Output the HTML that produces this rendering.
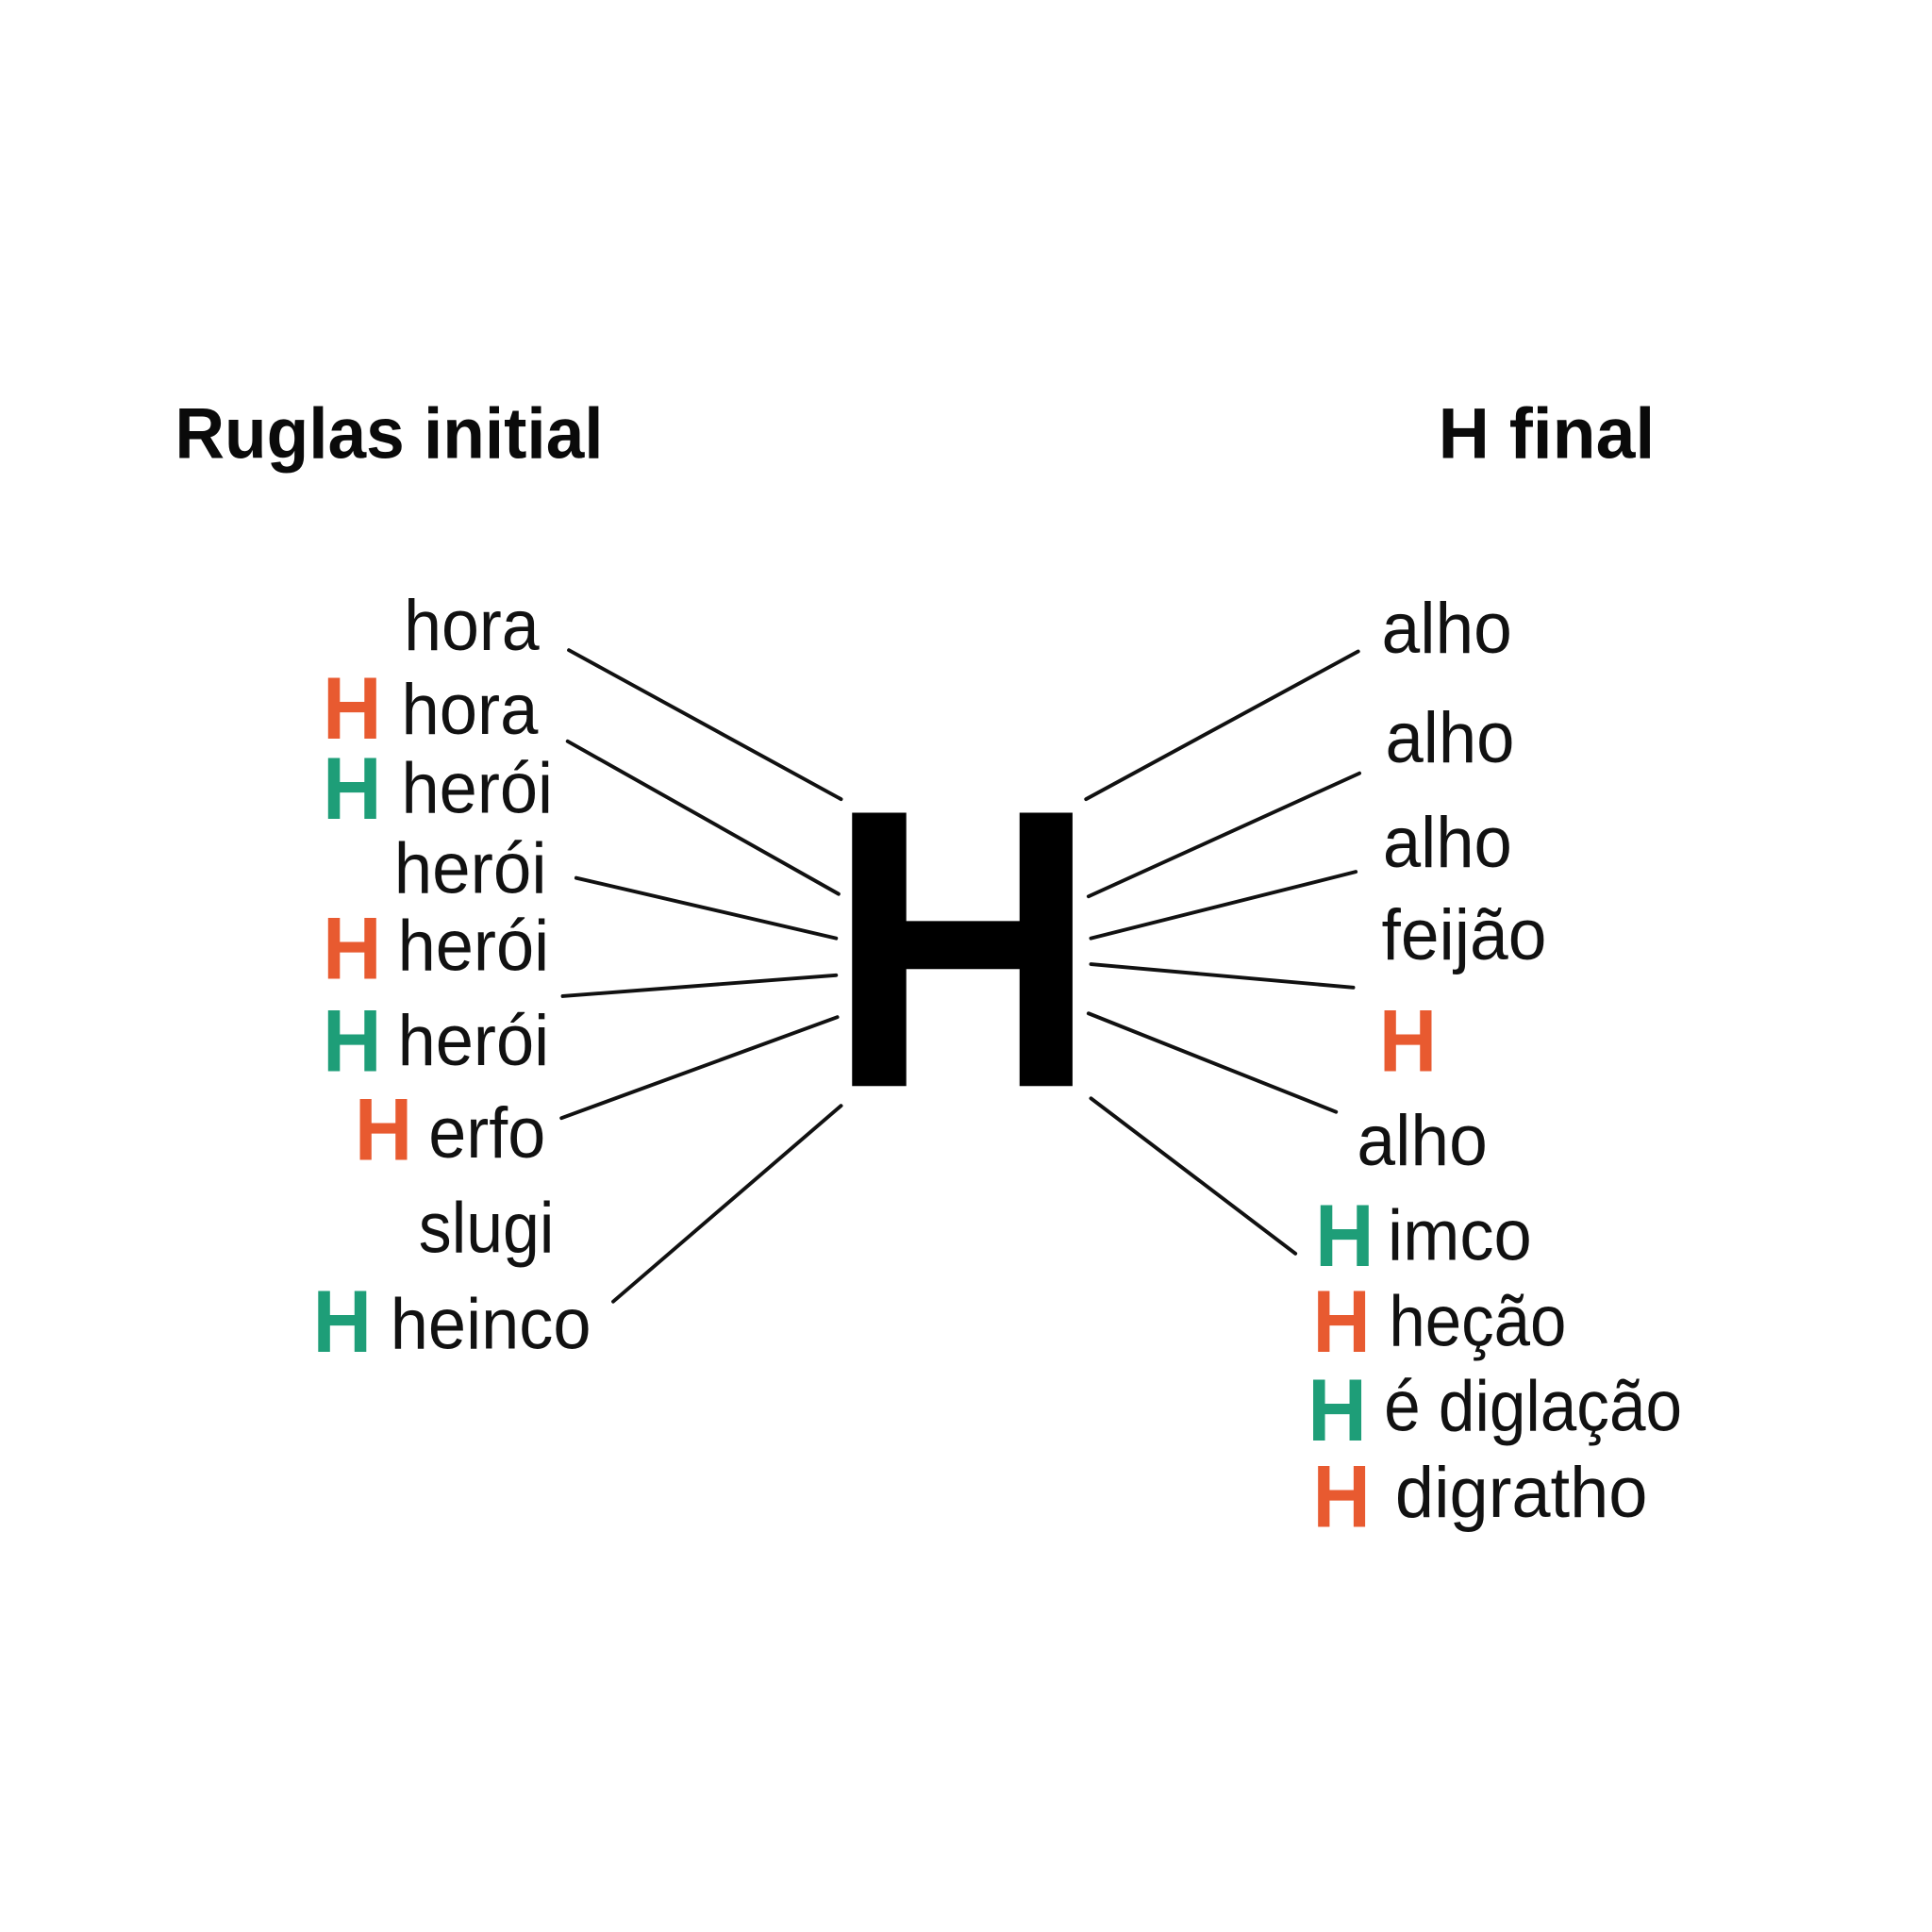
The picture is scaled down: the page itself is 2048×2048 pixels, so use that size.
<!DOCTYPE html>
<html><head><meta charset="utf-8"><style>
html,body{margin:0;padding:0;background:#fff}
svg{display:block}
text{font-family:"Liberation Sans",sans-serif}
.w{font-size:58px;fill:#111}
.o{font-size:72px;font-weight:bold;fill:#E85A30}
.g{font-size:72px;font-weight:bold;fill:#1E9E78}
.t{font-size:58px;font-weight:bold;fill:#0a0a0a}
</style></head><body>
<svg width="2048" height="2048" viewBox="0 0 1569 1569" xmlns="http://www.w3.org/2000/svg">
<rect width="1569" height="1569" fill="#fff"/>
<text class="t" x="142" y="372" textLength="348" lengthAdjust="spacingAndGlyphs">Ruglas initial</text>
<text class="t" x="1168" y="372" textLength="176" lengthAdjust="spacingAndGlyphs">H final</text>

<rect x="692" y="660" width="44" height="222" fill="#000"/>
<rect x="828" y="660" width="43" height="222" fill="#000"/>
<rect x="734" y="748" width="96" height="39" fill="#000"/>

<g stroke="#111" stroke-width="3" stroke-linecap="round">
<line x1="462" y1="528" x2="683" y2="649"/>
<line x1="461" y1="602" x2="681" y2="726"/>
<line x1="468" y1="713" x2="679" y2="762"/>
<line x1="457" y1="809" x2="679" y2="792"/>
<line x1="456" y1="908" x2="680" y2="826"/>
<line x1="498" y1="1057" x2="683" y2="898"/>
<line x1="882" y1="649" x2="1103" y2="529"/>
<line x1="884" y1="728" x2="1104" y2="628"/>
<line x1="886" y1="762" x2="1101" y2="708"/>
<line x1="886" y1="783" x2="1099" y2="802"/>
<line x1="884" y1="823" x2="1085" y2="903"/>
<line x1="886" y1="892" x2="1052" y2="1018"/>
</g>

<text class="w" x="328" y="528" textLength="110" lengthAdjust="spacingAndGlyphs">hora</text>
<text class="o" x="262" y="600" textLength="48" lengthAdjust="spacingAndGlyphs">H</text>
<text class="w" x="326" y="596" textLength="111" lengthAdjust="spacingAndGlyphs">hora</text>
<text class="g" x="262" y="665" textLength="48" lengthAdjust="spacingAndGlyphs">H</text>
<text class="w" x="326" y="660" textLength="123" lengthAdjust="spacingAndGlyphs">herói</text>
<text class="w" x="320" y="725" textLength="124" lengthAdjust="spacingAndGlyphs">herói</text>
<text class="o" x="262" y="795" textLength="48" lengthAdjust="spacingAndGlyphs">H</text>
<text class="w" x="323" y="788" textLength="123" lengthAdjust="spacingAndGlyphs">herói</text>
<text class="g" x="262" y="870" textLength="48" lengthAdjust="spacingAndGlyphs">H</text>
<text class="w" x="323" y="865" textLength="123" lengthAdjust="spacingAndGlyphs">herói</text>
<text class="o" x="288" y="942" textLength="47" lengthAdjust="spacingAndGlyphs">H</text>
<text class="w" x="348" y="940" textLength="95" lengthAdjust="spacingAndGlyphs">erfo</text>
<text class="w" x="340" y="1017" textLength="110" lengthAdjust="spacingAndGlyphs">slugi</text>
<text class="g" x="254" y="1098" textLength="48" lengthAdjust="spacingAndGlyphs">H</text>
<text class="w" x="317" y="1095" textLength="163" lengthAdjust="spacingAndGlyphs">heinco</text>

<text class="w" x="1122" y="530" textLength="106" lengthAdjust="spacingAndGlyphs">alho</text>
<text class="w" x="1125" y="619" textLength="105" lengthAdjust="spacingAndGlyphs">alho</text>
<text class="w" x="1123" y="704" textLength="105" lengthAdjust="spacingAndGlyphs">alho</text>
<text class="w" x="1122" y="779" textLength="134" lengthAdjust="spacingAndGlyphs">feijão</text>
<text class="o" x="1120" y="870" textLength="47" lengthAdjust="spacingAndGlyphs">H</text>
<text class="w" x="1102" y="946" textLength="106" lengthAdjust="spacingAndGlyphs">alho</text>
<text class="g" x="1068" y="1028" textLength="48" lengthAdjust="spacingAndGlyphs">H</text>
<text class="w" x="1127" y="1023" textLength="117" lengthAdjust="spacingAndGlyphs">imco</text>
<text class="o" x="1066" y="1098" textLength="47" lengthAdjust="spacingAndGlyphs">H</text>
<text class="w" x="1128" y="1093" textLength="144" lengthAdjust="spacingAndGlyphs">heção</text>
<text class="g" x="1062" y="1170" textLength="48" lengthAdjust="spacingAndGlyphs">H</text>
<text class="w" x="1124" y="1162" textLength="242" lengthAdjust="spacingAndGlyphs">é diglação</text>
<text class="o" x="1066" y="1240" textLength="47" lengthAdjust="spacingAndGlyphs">H</text>
<text class="w" x="1133" y="1232" textLength="205" lengthAdjust="spacingAndGlyphs">digratho</text>
</svg>
</body></html>
